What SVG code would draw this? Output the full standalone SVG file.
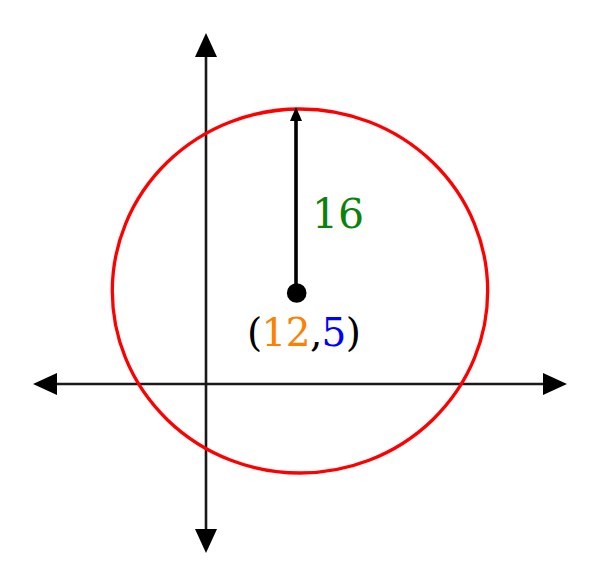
<svg xmlns="http://www.w3.org/2000/svg" width="600" height="585" viewBox="0 0 600 585">
<style>
.axis{stroke:#1a1a1a;stroke-width:2.6;fill:none}
.head{fill:#000}
.lbl{font-family:"DejaVu Serif","Liberation Serif",serif}
</style>
<rect width="600" height="585" fill="#fff"/>
<g id="axes">
<line class="axis" x1="50" y1="384" x2="550" y2="384"/>
<line class="axis" x1="206" y1="50" x2="206" y2="536"/>
<polygon class="head" points="33,384 57,373 57,395"/>
<polygon class="head" points="567,384 543,373 543,395"/>
<polygon class="head" points="206,33 195,57 217,57"/>
<polygon class="head" points="206,553 195,529 217,529"/>
</g>
<g id="circle">
<ellipse cx="300" cy="291" rx="187.7" ry="182" fill="none" stroke="#ff0000" stroke-width="3.3"/>
</g>
<g id="connectors">
<line x1="296" y1="293" x2="296" y2="118" stroke="#000" stroke-width="3.6"/>
<polygon class="head" points="296,107 290,121 302,121"/>
</g>
<g id="center">
<circle cx="296.7" cy="293" r="9.8" fill="#000"/>
<text class="lbl" x="304" y="346" font-size="39" text-anchor="middle" textLength="114">(<tspan fill="#ff7f00">12</tspan>,<tspan fill="#0000ff">5</tspan>)</text>
</g>
<g id="radius-label">
<text class="lbl" x="312" y="228" font-size="41" fill="#0a830a">16</text>
</g>
</svg>
